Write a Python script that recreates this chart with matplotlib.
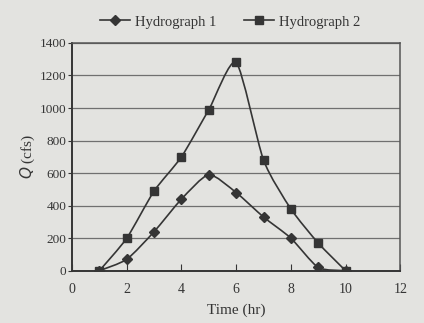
import matplotlib
matplotlib.use("Agg")
import matplotlib.pyplot as plt
import numpy as np
from matplotlib.path import Path
from matplotlib.patches import PathPatch
from matplotlib.lines import Line2D

# hydrograph ordinates (cfs) by hour
time_hr = [1, 2, 3, 4, 5, 6, 7, 8, 9, 10]
hydro1 = [0, 70, 240, 440, 590, 480, 330, 200, 20, 0]
hydro2 = [0, 200, 490, 700, 990, 1280, 680, 380, 170, 0]

x_ticks = [0, 2, 4, 6, 8, 10, 12]
y_ticks = [0, 200, 400, 600, 800, 1000, 1200, 1400]

PAPER = "#e3e3e0"
INK = "#353535"

plt.rcParams["font.family"] = ["Liberation Serif", "DejaVu Serif"]


def smooth_path(xs, ys, k=1 / 9.0):
    """Cubic Bezier through the points, mild Catmull-Rom style smoothing."""
    pts = np.column_stack([xs, ys]).astype(float)
    verts = [pts[0]]
    codes = [Path.MOVETO]
    n = len(pts)
    for i in range(n - 1):
        p0 = pts[i - 1] if i > 0 else pts[i]
        p1 = pts[i]
        p2 = pts[i + 1]
        p3 = pts[i + 2] if i + 2 < n else pts[i + 1]
        c1 = p1 + (p2 - p0) * k
        c2 = p2 - (p3 - p1) * k
        verts += [c1, c2, p2]
        codes += [Path.CURVE4] * 3
    return Path(verts, codes)


fig = plt.figure(figsize=(4.24, 3.23), dpi=100, facecolor=PAPER)
ax = fig.add_axes([0.170, 0.162, 0.774, 0.705], facecolor=PAPER)

for ys, marker, ms in [(hydro1, "D", 5.0), (hydro2, "s", 5.5)]:
    ax.add_patch(PathPatch(smooth_path(time_hr, ys), facecolor="none",
                           edgecolor=INK, lw=1.2, zorder=3))
    ax.plot(time_hr, ys, ls="none", marker=marker, ms=ms, color=INK, zorder=4)

ax.set_xlim(0, 12)
ax.set_ylim(0, 1400)
ax.set_xticks(x_ticks)
ax.set_yticks(y_ticks)
ax.yaxis.grid(True, color="#707070", lw=0.9)
ax.set_axisbelow(True)

ax.tick_params(axis="x", direction="in", length=5, color=INK, labelsize=10,
               labelcolor=INK, pad=9)
ax.tick_params(axis="y", direction="out", length=3, color=INK, labelsize=9.5,
               labelcolor=INK, pad=1)

for side in ["left", "bottom"]:
    ax.spines[side].set_color(INK)
    ax.spines[side].set_linewidth(1.4)
for side in ["top", "right"]:
    ax.spines[side].set_color("#555555")
    ax.spines[side].set_linewidth(1.1)

ax.set_xlabel("Time (hr)", fontsize=11, color=INK, labelpad=5)
ax.set_ylabel("$\\mathit{Q}$ (cfs)", fontsize=11, color=INK, labelpad=2)

handles = [
    Line2D([], [], color=INK, lw=1.2, marker="D", ms=5.0),
    Line2D([], [], color=INK, lw=1.2, marker="s", ms=5.5),
]
fig.legend(handles, ["Hydrograph 1", "Hydrograph 2"], loc="center",
           bbox_to_anchor=(0.543, 0.932), ncol=2, frameon=False, fontsize=10.5,
           labelcolor=INK, handlelength=2.05, handletextpad=0.35,
           columnspacing=1.9)

fig.savefig("out.png", dpi=100, facecolor=PAPER)
